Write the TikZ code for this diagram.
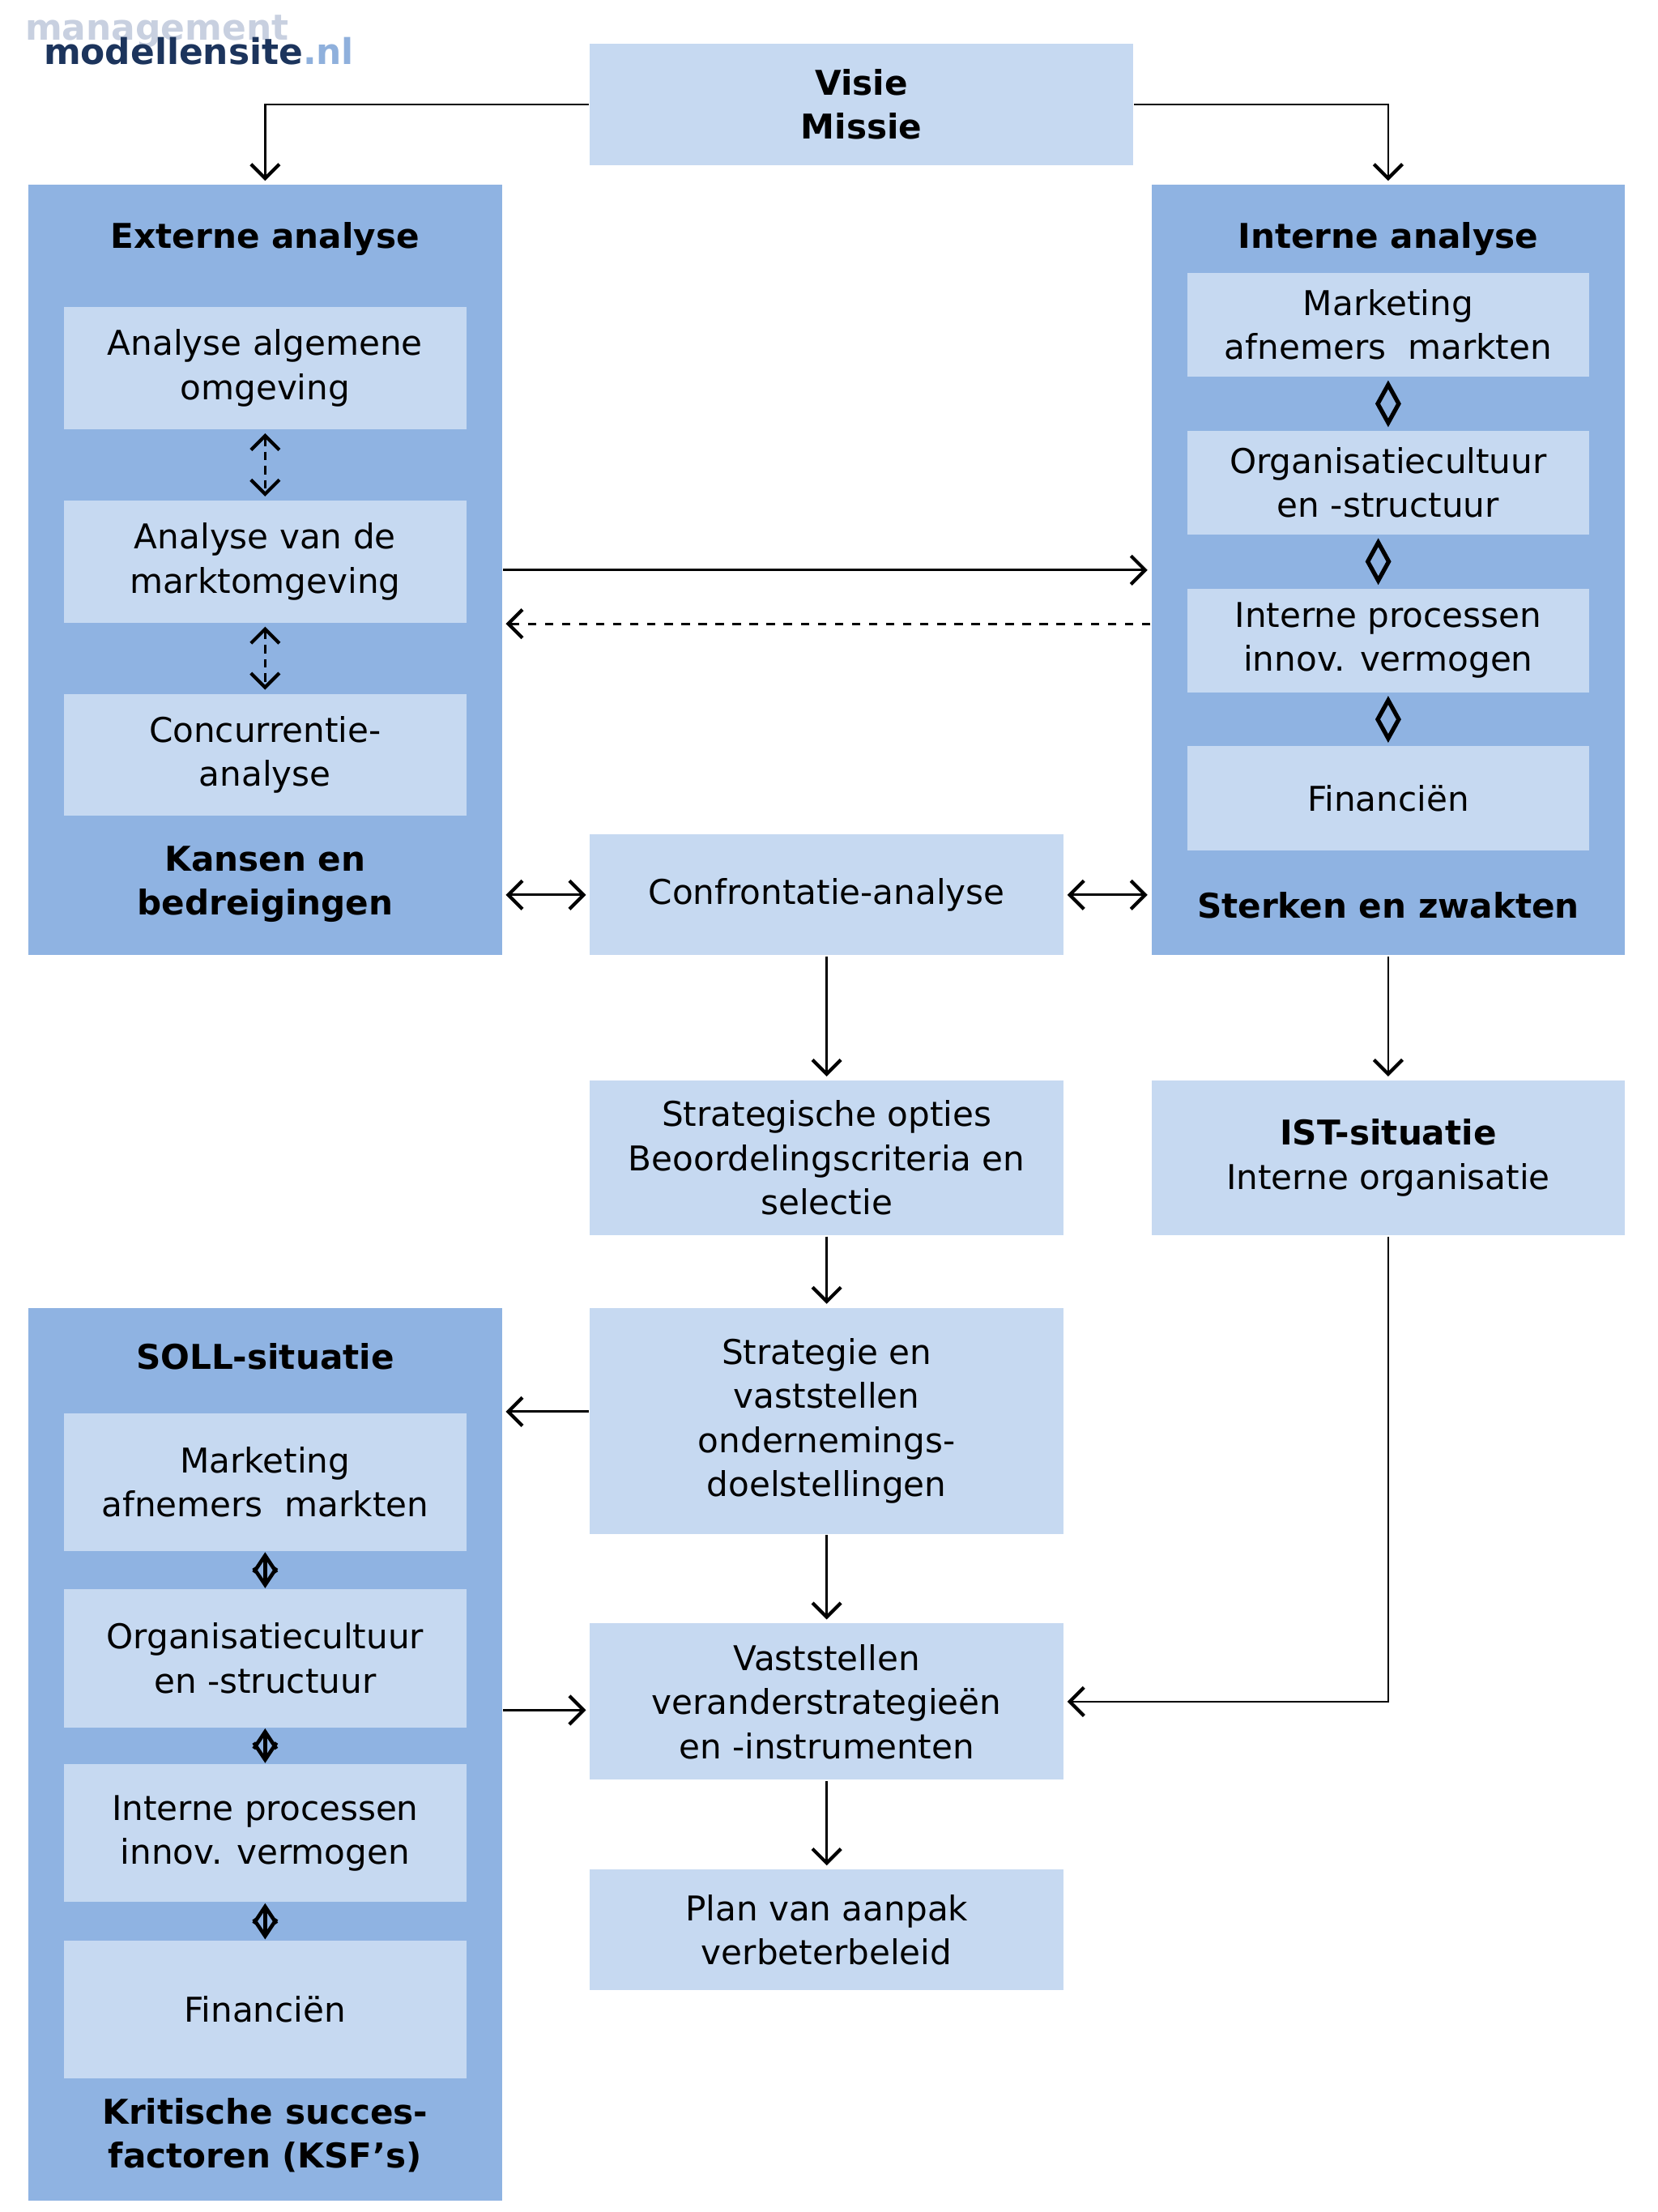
\documentclass[tikz,border=0pt]{standalone}
\usepackage{fontspec}
\setmainfont{DejaVu Sans}
\usetikzlibrary{arrows.meta,shapes.geometric,calc}
\definecolor{paneldark}{RGB}{143,179,226}
\definecolor{boxlight}{RGB}{198,217,241}
\definecolor{logonavy}{RGB}{28,52,92}
\definecolor{logoblue}{RGB}{143,176,220}
\definecolor{logogrey}{RGB}{200,208,224}
\tikzset{every picture/.style={line width=0.8pt}}
\begin{document}
\begin{tikzpicture}[x=0.5pt,y=0.5pt,yscale=-1,xscale=1,
  txt/.style={font=\fontsize{12}{15.5}\selectfont,align=center,inner sep=0pt},
  ttl/.style={txt,font=\fontsize{12}{15.5}\selectfont\bfseries},
  panel/.style={fill=paneldark,minimum width=166.5pt,inner sep=0pt},
  wide/.style={fill=boxlight,minimum width=166.5pt,txt},
  sub/.style={fill=boxlight,minimum width=141.5pt,txt},
  arr/.style={-{Straight Barb[length=5pt,width=10pt,line width=1.2pt]},shorten >=1pt},
  arrb/.style={{Straight Barb[length=5pt,width=10pt,line width=1.2pt]}-{Straight Barb[length=5pt,width=10pt,line width=1.2pt]},shorten >=1pt,shorten <=1pt},
  dia/.style={draw,diamond,line width=1.5pt,minimum width=8pt,minimum height=14pt,inner sep=0pt,fill=paneldark},
  star/.style={line width=1.3pt,{Straight Barb[length=6pt,width=8pt]}-{Straight Barb[length=6pt,width=8pt]}}]
	\useasboundingbox (0,0) rectangle (1166,1556);

	% logo
	\node (logoA) [anchor=west,inner sep=0pt,text=logogrey,font=\fontsize{12.5}{13}\selectfont\bfseries] at (17,22) {management};
	\node (logoB) [anchor=west,inner sep=0pt,font=\fontsize{12.5}{13}\selectfont\bfseries] at (30,36) {\textcolor{logonavy}{modellensite}\textcolor{logoblue}{.nl}};

	% panels
	\node (ext) [panel,minimum height=271pt] at (186.5,401) {};
	\node (int) [panel,minimum height=271pt] at (976.5,401) {};
	\node (soll) [panel,minimum height=314pt] at (186.5,1234) {};

	% top
	\node (visie) [wide,minimum width=191pt,minimum height=42.5pt,font=\fontsize{12}{15.5}\selectfont\bfseries] at (606,73.5) {Visie\\Missie};

	% externe analyse
	\node (extT) [ttl] at (186.5,168) {Externe analyse};
	\node (e1) [sub,minimum height=43pt] at (186.5,259) {Analyse algemene\\omgeving};
	\node (e2) [sub,minimum height=43pt] at (186.5,395) {Analyse van de\\marktomgeving};
	\node (e3) [sub,minimum height=43pt] at (186.5,531) {Concurrentie-\\analyse};
	\node (extB) [ttl] at (186.5,622) {Kansen en\\bedreigingen};

	% interne analyse
	\node (intT) [ttl] at (976.5,168) {Interne analyse};
	\node (i1) [sub,minimum height=36.5pt] at (976.5,228.5) {Marketing\\afnemers\ \ markten};
	\node (i2) [sub,minimum height=36.5pt] at (976.5,339.5) {Organisatiecultuur\\en -structuur};
	\node (i3) [sub,minimum height=36.5pt] at (976.5,450.5) {Interne processen\\innov. vermogen};
	\node (i4) [sub,minimum height=36.5pt] at (976.5,561.5) {Financiën};
	\node (intB) [ttl] at (976.5,637) {Sterken en zwakten};

	% middle column
	\node (conf) [wide,minimum height=42.5pt] at (581.5,629.5) {Confrontatie-analyse};
	\node (opt) [wide,minimum height=54.5pt] at (581.5,814.5) {Strategische opties\\Beoordelingscriteria en\\selectie};
	\node (ist) [wide,minimum height=54.5pt] at (976.5,814.5) {\textbf{IST-situatie}\\Interne organisatie};
	\node (strat) [wide,minimum height=79.5pt] at (581.5,999.5) {Strategie en\\vaststellen\\ondernemings-\\doelstellingen};
	\node (vast) [wide,minimum height=55pt] at (581.5,1197) {Vaststellen\\veranderstrategieën\\en -instrumenten};
	\node (plan) [wide,minimum height=42.5pt] at (581.5,1357.5) {Plan van aanpak\\verbeterbeleid};

	% soll-situatie
	\node (sollT) [ttl] at (186.5,954) {SOLL-situatie};
	\node (s1) [sub,minimum height=48.5pt] at (186.5,1042.5) {Marketing\\afnemers\ \ markten};
	\node (s2) [sub,minimum height=48.5pt] at (186.5,1166.5) {Organisatiecultuur\\en -structuur};
	\node (s3) [sub,minimum height=48.5pt] at (186.5,1289.5) {Interne processen\\innov. vermogen};
	\node (s4) [sub,minimum height=48.5pt] at (186.5,1413.5) {Financiën};
	\node (sollB) [ttl] at (186.5,1502) {Kritische succes-\\factoren (KSF’s)};

	% links inside panels
	\draw [arrb,dash pattern=on 3pt off 2pt] (e1.south) -- (e2.north);
	\draw [arrb,dash pattern=on 3pt off 2pt] (e2.south) -- (e3.north);
	\node (d1) [dia] at ($(i1.south)!0.5!(i2.north)$) {};
	\node (d2) [dia,xshift=-3.5pt] at ($(i2.south)!0.5!(i3.north)$) {};
	\node (d3) [dia] at ($(i3.south)!0.5!(i4.north)$) {};
	\draw [star] (s1.south) -- (s2.north);
	\draw [star] (s2.south) -- (s3.north);
	\draw [star] (s3.south) -- (s4.north);

	% connectors
	\coordinate (yS) at (0,993);
	\coordinate (yV) at (0,1203);
	\draw [arr] (visie.west) -| (ext.north);
	\draw [arr] (visie.east) -| (int.north);
	\draw [arr] (ext.east) -- (int.west);
	\draw [arr,dashed] (int.west |- e2.south) -- (ext.east |- e2.south);
	\draw [arrb] (ext.east |- conf) -- (conf.west);
	\draw [arrb] (conf.east) -- (int.west |- conf);
	\draw [arr] (conf.south) -- (opt.north);
	\draw [arr] (int.south) -- (ist.north);
	\draw [arr] (opt.south) -- (strat.north);
	\draw [arr] (strat.west |- yS) -- (soll.east |- yS);
	\draw [arr] (strat.south) -- (vast.north);
	\draw [arr] (soll.east |- yV) -- (vast.west |- yV);
	\draw [arr] (ist.south) |- (vast.east);
	\draw [arr] (vast.south) -- (plan.north);
\end{tikzpicture}
\end{document}
